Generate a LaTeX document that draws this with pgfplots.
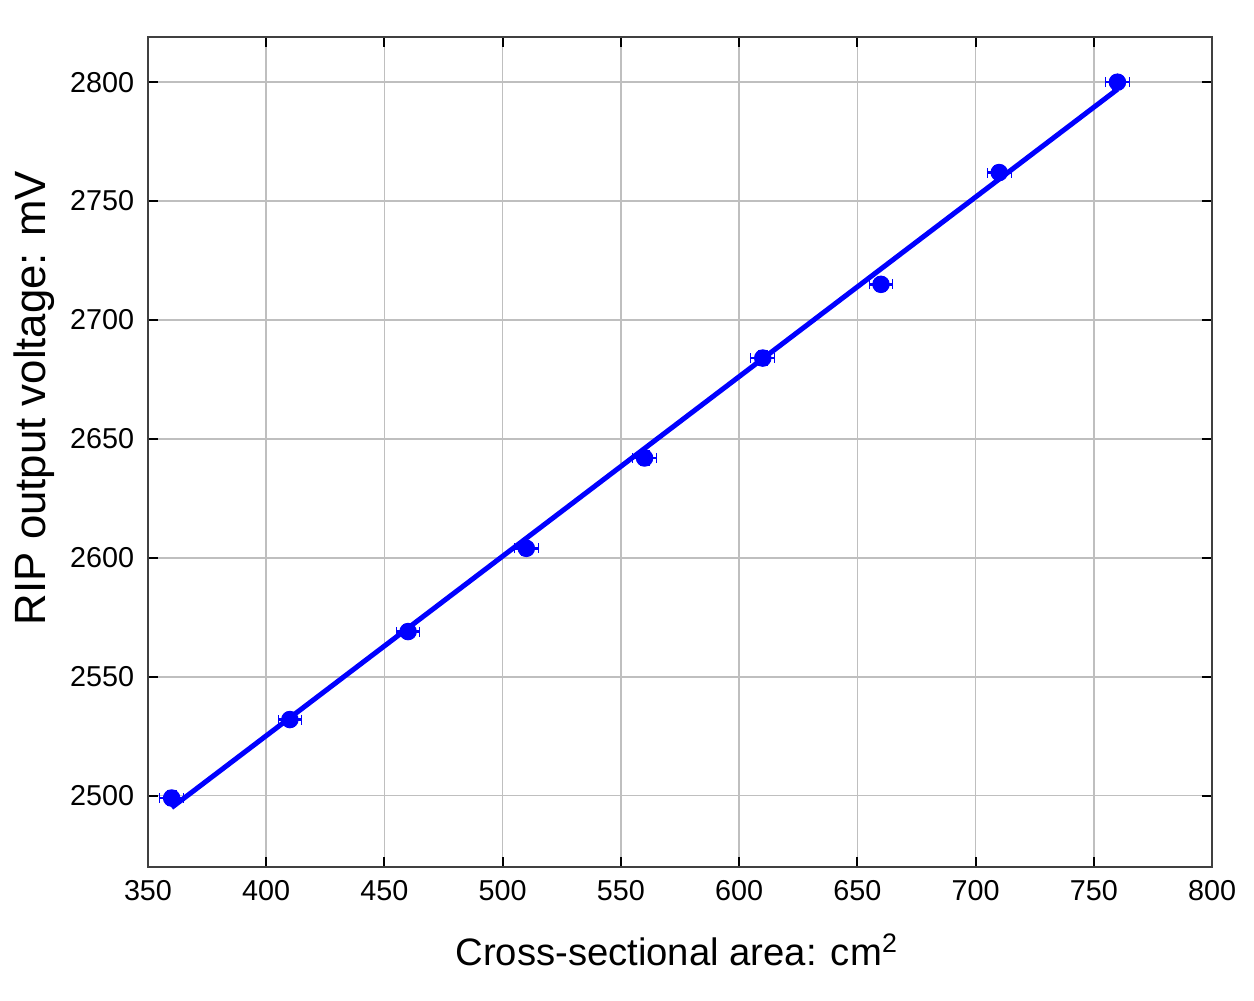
\documentclass[border=0pt]{standalone}
\usepackage{pgfplots}
\pgfplotsset{compat=1.18}
\usepackage{fontspec}
\setmainfont{Liberation Sans}
\usetikzlibrary{calc}
\begin{document}
\begin{tikzpicture}
\begin{axis}[
  scale only axis,
  width=425.6pt, height=332pt,
  xmin=350, xmax=800, ymin=2470, ymax=2819,
  xtick={350,400,...,800},
  ytick={2500,2550,...,2800},
  tick align=inside,
  major tick length=4pt,
  tick style={black, line width=0.8pt},
  xtick pos=both, ytick pos=both,
  grid=major,
  grid style={black!25, line width=0.6pt},
  axis line style={black!75, line width=0.8pt},
  /pgf/number format/assume math mode=true,
  /pgf/number format/1000 sep={},
  tick label style={font=\fontsize{11.5}{13}\selectfont},
  xlabel={Cross-sectional area: cm\textsuperscript{2}},
  ylabel={RIP output voltage: mV},
  xlabel style={font=\fontsize{15.3}{17}\selectfont, at={(axis description cs:0.497,0)}, anchor=center, yshift=-33pt},
  ylabel style={font=\fontsize{17.5}{19}\selectfont, at={(axis description cs:0,0.565)}, anchor=center, yshift=45.5pt},
  xticklabel style={yshift=-2pt},
  yticklabel style={xshift=-2pt},
]
\addplot[blue, line width=2pt] coordinates {(360,2495) (760,2797)};
\addplot[blue, only marks, mark=*, mark size=3.3pt,
  error bars/.cd, x dir=both, x explicit, y dir=both, y explicit,
  error bar style={blue, line width=1pt}, error mark options={rotate=90, mark size=2pt, blue}]
  coordinates {
  (360,2499) +- (5,3)
  (410,2532) +- (5,3)
  (460,2569) +- (5,3)
  (510,2604) +- (5,3)
  (560,2642) +- (5,3)
  (610,2684) +- (5,3)
  (660,2715) +- (5,3)
  (710,2762) +- (5,3)
  (760,2800) +- (5,3)
  };
\end{axis}
\pgfresetboundingbox
\path[use as bounding box] ($(current axis.south west)+(-59.2pt,-53.2pt)$) rectangle ($(current axis.north east)+(16.8pt,14.8pt)$);
\end{tikzpicture}
\end{document}
